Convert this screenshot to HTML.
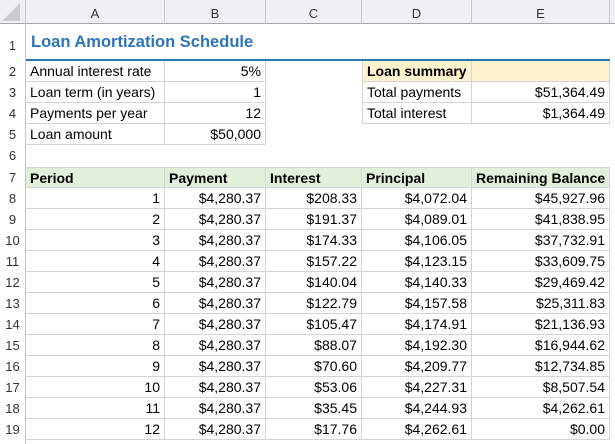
<!DOCTYPE html>
<html><head><style>
body{margin:0;width:615px;height:444px;overflow:hidden;background:#fff;font-family:"Liberation Sans",sans-serif;font-size:14px;color:#000;position:relative}
.c{position:absolute;box-sizing:border-box;white-space:nowrap;line-height:21px;height:21px;padding:0 4px;overflow:hidden}
.g{border-right:1px solid #d4d4d4;border-bottom:1px solid #d4d4d4}
.r{text-align:right}
.b{font-weight:bold}
.rh{position:absolute;left:0;width:26px;text-align:center;font-size:13px;color:#333;background:#fff;border-right:1px solid #c8c8c8;box-sizing:border-box}
.ch{position:absolute;top:0;height:24px;line-height:27px;text-align:center;font-size:13px;color:#333;background:#eef0f3;border-right:1px solid #c8c8c8;border-bottom:1px solid #a6a6a6;box-sizing:border-box}
</style></head><body>
<div class="ch" style="left:0;width:26px"></div>
<div class="ch" style="left:26px;width:139px">A</div>
<div class="ch" style="left:165px;width:101px">B</div>
<div class="ch" style="left:266px;width:96px">C</div>
<div class="ch" style="left:362px;width:110px">D</div>
<div class="ch" style="left:472px;width:138px">E</div>
<div class="ch" style="left:610px;width:5px;border-right:none"></div>
<div style="position:absolute;left:2px;top:3px;width:0;height:0;border-left:18px solid transparent;border-bottom:18px solid #c9cbcf"></div>

<div class="rh" style="top:24px;height:37px;line-height:44px">1</div>
<div class="rh" style="top:61px;height:21px;line-height:21px">2</div>
<div class="rh" style="top:82px;height:21px;line-height:21px">3</div>
<div class="rh" style="top:103px;height:21px;line-height:21px">4</div>
<div class="rh" style="top:124px;height:21px;line-height:21px">5</div>
<div class="rh" style="top:145px;height:22px;line-height:22px">6</div>
<div class="rh" style="top:167px;height:21px;line-height:21px">7</div>
<div class="rh" style="top:188px;height:21px;line-height:21px">8</div>
<div class="rh" style="top:209px;height:21px;line-height:21px">9</div>
<div class="rh" style="top:230px;height:21px;line-height:21px">10</div>
<div class="rh" style="top:251px;height:21px;line-height:21px">11</div>
<div class="rh" style="top:272px;height:21px;line-height:21px">12</div>
<div class="rh" style="top:293px;height:21px;line-height:21px">13</div>
<div class="rh" style="top:314px;height:21px;line-height:21px">14</div>
<div class="rh" style="top:335px;height:21px;line-height:21px">15</div>
<div class="rh" style="top:356px;height:21px;line-height:21px">16</div>
<div class="rh" style="top:377px;height:21px;line-height:21px">17</div>
<div class="rh" style="top:398px;height:21px;line-height:21px">18</div>
<div class="rh" style="top:419px;height:25px;line-height:21px">19</div>

<div style="position:absolute;left:31px;top:33px;font-size:16.5px;font-weight:bold;color:#2e75b6">Loan Amortization Schedule</div>
<div style="position:absolute;left:26px;top:59px;width:584px;height:2px;background:#2e75b6"></div>

<div class="c g" style="left:26px;top:61px;width:139px">Annual interest rate</div>
<div class="c g r" style="left:165px;top:61px;width:101px">5%</div>
<div class="c g" style="left:26px;top:82px;width:139px">Loan term (in years)</div>
<div class="c g r" style="left:165px;top:82px;width:101px">1</div>
<div class="c g" style="left:26px;top:103px;width:139px">Payments per year</div>
<div class="c g r" style="left:165px;top:103px;width:101px">12</div>
<div class="c g" style="left:26px;top:124px;width:139px">Loan amount</div>
<div class="c g r" style="left:165px;top:124px;width:101px">$50,000</div>

<div class="c g b" style="left:362px;top:61px;width:110px;background:#fff2cc;border-left:1px solid #d4d4d4">Loan summary</div>
<div class="c g" style="left:472px;top:61px;width:138px;background:#fff2cc"></div>
<div class="c g" style="left:362px;top:82px;width:110px;border-left:1px solid #d4d4d4">Total payments</div>
<div class="c g r" style="left:472px;top:82px;width:138px">$51,364.49</div>
<div class="c g" style="left:362px;top:103px;width:110px;border-left:1px solid #d4d4d4">Total interest</div>
<div class="c g r" style="left:472px;top:103px;width:138px">$1,364.49</div>

<div class="c g b" style="left:26px;top:167px;width:139px;background:#e2efda;border-top:1px solid #d4d4d4">Period</div>
<div class="c g b" style="left:165px;top:167px;width:101px;background:#e2efda;border-top:1px solid #d4d4d4">Payment</div>
<div class="c g b" style="left:266px;top:167px;width:96px;background:#e2efda;border-top:1px solid #d4d4d4">Interest</div>
<div class="c g b" style="left:362px;top:167px;width:110px;background:#e2efda;border-top:1px solid #d4d4d4">Principal</div>
<div class="c g b" style="left:472px;top:167px;width:138px;background:#e2efda;border-top:1px solid #d4d4d4">Remaining Balance</div>

<div class="c g r" style="left:26px;top:188px;width:139px">1</div><div class="c g r" style="left:165px;top:188px;width:101px">$4,280.37</div><div class="c g r" style="left:266px;top:188px;width:96px">$208.33</div><div class="c g r" style="left:362px;top:188px;width:110px">$4,072.04</div><div class="c g r" style="left:472px;top:188px;width:138px">$45,927.96</div>
<div class="c g r" style="left:26px;top:209px;width:139px">2</div><div class="c g r" style="left:165px;top:209px;width:101px">$4,280.37</div><div class="c g r" style="left:266px;top:209px;width:96px">$191.37</div><div class="c g r" style="left:362px;top:209px;width:110px">$4,089.01</div><div class="c g r" style="left:472px;top:209px;width:138px">$41,838.95</div>
<div class="c g r" style="left:26px;top:230px;width:139px">3</div><div class="c g r" style="left:165px;top:230px;width:101px">$4,280.37</div><div class="c g r" style="left:266px;top:230px;width:96px">$174.33</div><div class="c g r" style="left:362px;top:230px;width:110px">$4,106.05</div><div class="c g r" style="left:472px;top:230px;width:138px">$37,732.91</div>
<div class="c g r" style="left:26px;top:251px;width:139px">4</div><div class="c g r" style="left:165px;top:251px;width:101px">$4,280.37</div><div class="c g r" style="left:266px;top:251px;width:96px">$157.22</div><div class="c g r" style="left:362px;top:251px;width:110px">$4,123.15</div><div class="c g r" style="left:472px;top:251px;width:138px">$33,609.75</div>
<div class="c g r" style="left:26px;top:272px;width:139px">5</div><div class="c g r" style="left:165px;top:272px;width:101px">$4,280.37</div><div class="c g r" style="left:266px;top:272px;width:96px">$140.04</div><div class="c g r" style="left:362px;top:272px;width:110px">$4,140.33</div><div class="c g r" style="left:472px;top:272px;width:138px">$29,469.42</div>
<div class="c g r" style="left:26px;top:293px;width:139px">6</div><div class="c g r" style="left:165px;top:293px;width:101px">$4,280.37</div><div class="c g r" style="left:266px;top:293px;width:96px">$122.79</div><div class="c g r" style="left:362px;top:293px;width:110px">$4,157.58</div><div class="c g r" style="left:472px;top:293px;width:138px">$25,311.83</div>
<div class="c g r" style="left:26px;top:314px;width:139px">7</div><div class="c g r" style="left:165px;top:314px;width:101px">$4,280.37</div><div class="c g r" style="left:266px;top:314px;width:96px">$105.47</div><div class="c g r" style="left:362px;top:314px;width:110px">$4,174.91</div><div class="c g r" style="left:472px;top:314px;width:138px">$21,136.93</div>
<div class="c g r" style="left:26px;top:335px;width:139px">8</div><div class="c g r" style="left:165px;top:335px;width:101px">$4,280.37</div><div class="c g r" style="left:266px;top:335px;width:96px">$88.07</div><div class="c g r" style="left:362px;top:335px;width:110px">$4,192.30</div><div class="c g r" style="left:472px;top:335px;width:138px">$16,944.62</div>
<div class="c g r" style="left:26px;top:356px;width:139px">9</div><div class="c g r" style="left:165px;top:356px;width:101px">$4,280.37</div><div class="c g r" style="left:266px;top:356px;width:96px">$70.60</div><div class="c g r" style="left:362px;top:356px;width:110px">$4,209.77</div><div class="c g r" style="left:472px;top:356px;width:138px">$12,734.85</div>
<div class="c g r" style="left:26px;top:377px;width:139px">10</div><div class="c g r" style="left:165px;top:377px;width:101px">$4,280.37</div><div class="c g r" style="left:266px;top:377px;width:96px">$53.06</div><div class="c g r" style="left:362px;top:377px;width:110px">$4,227.31</div><div class="c g r" style="left:472px;top:377px;width:138px">$8,507.54</div>
<div class="c g r" style="left:26px;top:398px;width:139px">11</div><div class="c g r" style="left:165px;top:398px;width:101px">$4,280.37</div><div class="c g r" style="left:266px;top:398px;width:96px">$35.45</div><div class="c g r" style="left:362px;top:398px;width:110px">$4,244.93</div><div class="c g r" style="left:472px;top:398px;width:138px">$4,262.61</div>
<div class="c g r" style="left:26px;top:419px;width:139px">12</div><div class="c g r" style="left:165px;top:419px;width:101px">$4,280.37</div><div class="c g r" style="left:266px;top:419px;width:96px">$17.76</div><div class="c g r" style="left:362px;top:419px;width:110px">$4,262.61</div><div class="c g r" style="left:472px;top:419px;width:138px">$0.00</div>
</body></html>
